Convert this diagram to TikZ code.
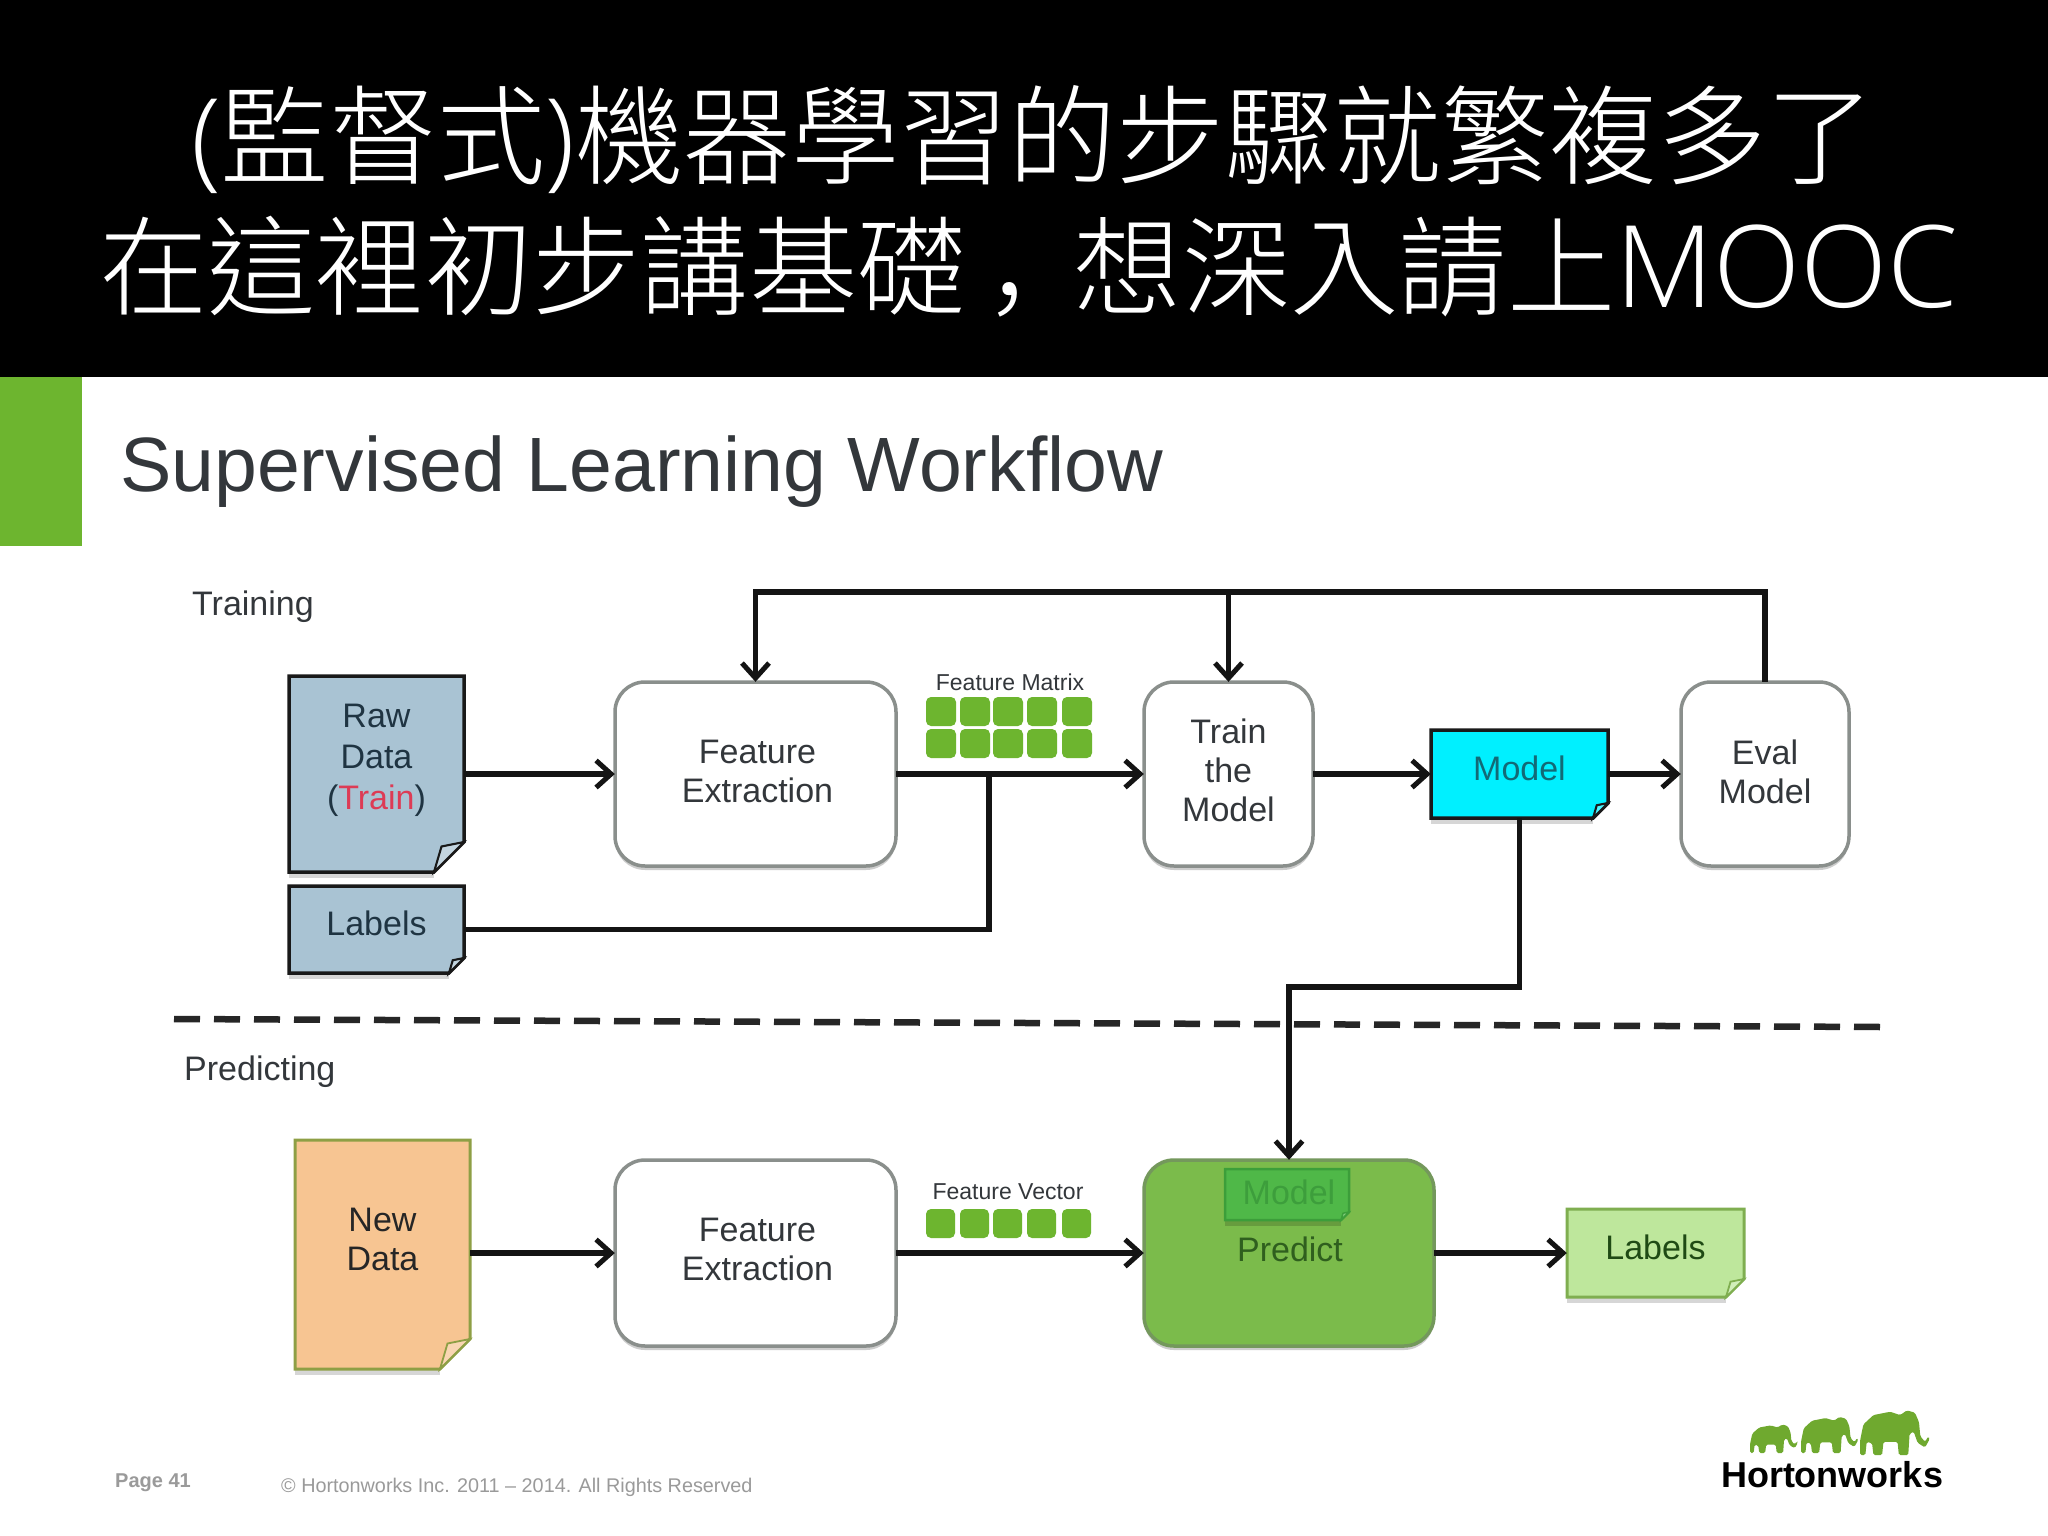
\documentclass[tikz,border=0pt]{standalone}
\usepackage{fontspec}
\setmainfont{Liberation Sans}
\newfontfamily\cjkfont{Noto Sans CJK TC Light}
\newfontfamily\cjkcomma{Noto Sans CJK SC Light}
\newfontfamily\latfont{Open Sans Light}
\usetikzlibrary{arrows.meta,fit,shadows,calc}
\definecolor{inktext}{HTML}{33373B}
\definecolor{slideblack}{HTML}{000000}
\definecolor{barleaf}{HTML}{6DB52F}
\definecolor{bluedoc}{HTML}{A9C3D3}
\definecolor{bluetext}{HTML}{1F3442}
\definecolor{hotred}{HTML}{DD3B55}
\definecolor{boxedge}{HTML}{8A8F8C}
\definecolor{cyanfill}{HTML}{00F0FF}
\definecolor{cyantext}{HTML}{126A76}
\definecolor{orangedoc}{HTML}{F7C592}
\definecolor{orangeedge}{HTML}{8E9F45}
\definecolor{predfill}{HTML}{7BBB4B}
\definecolor{prededge}{HTML}{74985C}
\definecolor{predtext}{HTML}{2F5F1E}
\definecolor{innerfill}{HTML}{4FB848}
\definecolor{inneredge}{HTML}{3C9E3A}
\definecolor{innertext}{HTML}{3D9E3C}
\definecolor{limefill}{HTML}{BEE79C}
\definecolor{limeedge}{HTML}{7FAE50}
\definecolor{limetext}{HTML}{1F4A14}
\definecolor{footgray}{HTML}{9A9A9A}
\definecolor{elegreen}{HTML}{6FA92F}
\tikzset{
  x=1pt,y=-1pt,
  softshadow/.style={drop shadow={shadow xshift=0pt,shadow yshift=-4pt,opacity=.28,fill=black!70}},
  flow/.style={line width=5.4pt,draw=black!92,-{Straight Barb[length=15pt,width=27pt,line width=5pt]}},
  wire/.style={line width=5.4pt,draw=black!92},
  bodytext/.style={align=center,font=\fontsize{34}{39}\selectfont,text=inktext,inner sep=0pt},
  smalltext/.style={font=\fontsize{23}{26}\selectfont,text=inktext,inner sep=0pt},
  sectiontext/.style={font=\fontsize{34}{38}\selectfont,text=inktext,inner sep=0pt,anchor=west},
  titletext/.style={font=\fontsize{108.3}{120}\selectfont,text=white,inner sep=0pt},
  cellbox/.style={fill=barleaf,rounded corners=5pt,draw=none},
  boxhull/.style={inner sep=0pt},
}
% #1 name, #2 x1, #3 y1, #4 x2, #5 y2, #6 fold, #7 fill, #8 edge, #9 edge width
\newcommand{\docsheet}[9]{%
  \coordinate (#1-a) at (#2,#3);
  \coordinate (#1-b) at (#4,#5);
  \fill[black,opacity=.16] (#2,#5) rectangle (#4-#6,#5+6);
  \filldraw[fill=#7,draw=#8,line width=#9,line join=miter]
    (#2,#3) -- (#4,#3) -- (#4,#5-#6) -- (#4-#6,#5) -- (#2,#5) -- cycle;
  \filldraw[fill=#7!70!white,draw=#8,line width=#9*.6,line join=miter]
    (#4,#5-#6) -- (#4-#6*.75,#5-#6*.85) -- (#4-#6,#5) -- cycle;
  \node[fit=(#1-a)(#1-b),boxhull] (#1) {};
}
% #1 name, #2 x1, #3 y1, #4 x2, #5 y2, #6 fill, #7 edge
\newcommand{\roundbox}[7]{%
  \coordinate (#1-a) at (#2,#3);
  \coordinate (#1-b) at (#4,#5);
  \filldraw[fill=#6,draw=#7,line width=3.5pt,rounded corners=30pt,softshadow]
    (#2,#3) rectangle (#4,#5);
  \node[fit=(#1-a)(#1-b),boxhull] (#1) {};
}
% #1 left x, #2 top y, #3 x scale, #4 y scale
\newcommand{\elephantmark}[4]{%
  \fill[elegreen,rounded corners=1.5pt,shift={(#1,#2)},xscale=#3,yscale=#4]
    (0,70) -- (5,35) -- (20,15) -- (45,8) -- (60,15) -- (70,5) -- (82,10) -- (88,30) -- (90,60)
    -- (97,72) -- (102,60) -- (104,66) -- (97,84) -- (86,74) -- (80,50) -- (74,55) -- (72,100)
    -- (58,100) -- (56,72) -- (35,72) -- (33,100) -- (20,100) -- (18,75) -- (10,72) -- (8,100)
    -- (0,100) -- cycle;
}
\begin{document}
\begin{tikzpicture}
\useasboundingbox (0,0) rectangle (2048,1536);
\fill[white] (0,0) rectangle (2048,1536);
\fill[slideblack] (0,0) rectangle (2048,377);
\fill[barleaf] (0,377) rectangle (82,546);

\node[titletext] (title1) at (1033,140)
  {{\latfont(}{\cjkfont 監督式}{\latfont)}{\cjkfont 機器學習的步驟就繁複多了}};
\node[titletext] (title2) at (1029,267)
  {{\cjkfont 在這裡初步講基礎}{\cjkcomma\kern20pt ，\kern-20pt}{\cjkfont 想深入請上}{\latfont\fontsize{114}{120}\selectfont MOOC}};

\node[font=\fontsize{77}{84}\selectfont,text=inktext,inner sep=0pt,anchor=west] (heading) at (120,472) {Supervised Learning Workflow};

\node[sectiontext] (trainlab) at (192,607) {Training};
\node[sectiontext] (predlab) at (184,1072) {Predicting};

% training row
\docsheet{raw}{289}{676}{464}{872}{30}{bluedoc}{black!90}{3.5pt}
\node[bodytext,text=bluetext,font=\fontsize{34}{41}\selectfont] (rawtxt) at ($(raw)+(0,-14)$) {Raw\\Data\\(\textcolor{hotred}{Train})};
\docsheet{labelsa}{289}{886}{464}{973}{15}{bluedoc}{black!90}{3.5pt}
\node[bodytext,text=bluetext] (labelsatxt) at ($(labelsa)+(0,-6)$) {Labels};
\roundbox{fea}{615}{682}{896}{866}{white}{boxedge}
\node[bodytext] (featxt) at ($(fea)+(2,-3)$) {Feature\\Extraction};
\roundbox{trn}{1144}{682}{1313}{866}{white}{boxedge}
\node[bodytext] (trntxt) at ($(trn)+(0,-4)$) {Train\\the\\Model};
\docsheet{mdl}{1431}{730}{1608}{818}{15}{cyanfill}{black!90}{3.5pt}
\node[bodytext,text=cyantext] (mdltxt) at ($(mdl)+(0,-6)$) {Model};
\roundbox{evl}{1681}{682}{1849}{866}{white}{boxedge}
\node[bodytext] (evltxt) at ($(evl)+(0,-2)$) {Eval\\Model};

% feature matrix
\node[smalltext] (fmlab) at (1010,682) {Feature Matrix};
\foreach \cx in {926,960,993,1027,1062}{
  \fill[cellbox] (\cx,697) rectangle ++(30,29);
  \fill[cellbox] (\cx,729) rectangle ++(30,29);
}

% separator
\coordinate (dashl) at (174,1019);
\coordinate (dashr) at (1881,1027);
\draw[line width=6.5pt,draw=black!85,dash pattern=on 26pt off 14pt] (dashl) -- (dashr);

% predicting row
\docsheet{newd}{295}{1140}{470}{1369}{30}{orangedoc}{orangeedge}{3pt}
\node[bodytext,text=black!85] (newdtxt) at ($(newd)+(0,-15)$) {New\\Data};
\roundbox{feb}{615}{1160}{896}{1346}{white}{boxedge}
\node[bodytext] (febtxt) at ($(feb)+(2,-4)$) {Feature\\Extraction};
\roundbox{prd}{1144}{1160}{1434}{1346}{predfill}{prededge}
\docsheet{inm}{1225}{1169}{1349}{1220}{8}{innerfill}{inneredge}{2.5pt}
\node[bodytext,text=innertext] (inmtxt) at (1289,1192) {Model};
\node[bodytext,text=predtext] (prdtxt) at (1290,1249) {Predict};
\docsheet{labelsb}{1567}{1209}{1744}{1297}{18}{limefill}{limeedge}{3pt}
\node[bodytext,text=limetext] (labelsbtxt) at ($(labelsb)+(0,-6)$) {Labels};

% feature vector
\node[smalltext] (fvlab) at (1008,1192) {Feature Vector};
\foreach \cx in {926,960,993,1027,1062}{
  \fill[cellbox] (\cx,1209) rectangle ++(29,29);
}

% connectors
\coordinate (toprail) at (0,592);
\coordinate (joinpt) at (989,774);
\coordinate (bendrail) at (0,987);
\draw[flow] (raw.east) -- (fea.west);
\draw[flow] (fea.east) -- (trn.west);
\draw[flow] (trn.east) -- (mdl.west);
\draw[flow] (mdl.east) -- (evl.west);
\draw[wire] (labelsa.east) -| (joinpt);
\draw[flow] (evl.north) |- (toprail -| fea.north) -- (fea.north);
\draw[flow] (toprail -| trn.north) -- (trn.north);
\draw[flow] (mdl.south) -- (bendrail -| mdl.south) -- (bendrail -| prd.north) -- (prd.north);
\draw[flow] (newd.east |- feb.west) -- (feb.west);
\draw[flow] (feb.east) -- (prd.west);
\draw[flow] (prd.east) -- (labelsb.west);

% footer
\node[font=\bfseries\fontsize{20}{22}\selectfont,text=footgray,inner sep=0pt,anchor=west] (pagelab) at (115,1483) {Page 41};
\node[font=\fontsize{19.8}{22}\selectfont,text=footgray,inner sep=0pt,anchor=west] (copylab) at (281,1487) {© Hortonworks Inc. 2011 – 2014. All Rights Reserved};

% logo
\elephantmark{1750}{1423}{.46}{.30}
\elephantmark{1801}{1415}{.55}{.38}
\elephantmark{1860}{1408}{.67}{.47}
\node[font=\bfseries\fontsize{36}{40}\selectfont,text=black,inner sep=0pt] (logotxt) at (1832,1475) {Hortonworks};
\end{tikzpicture}
\end{document}
